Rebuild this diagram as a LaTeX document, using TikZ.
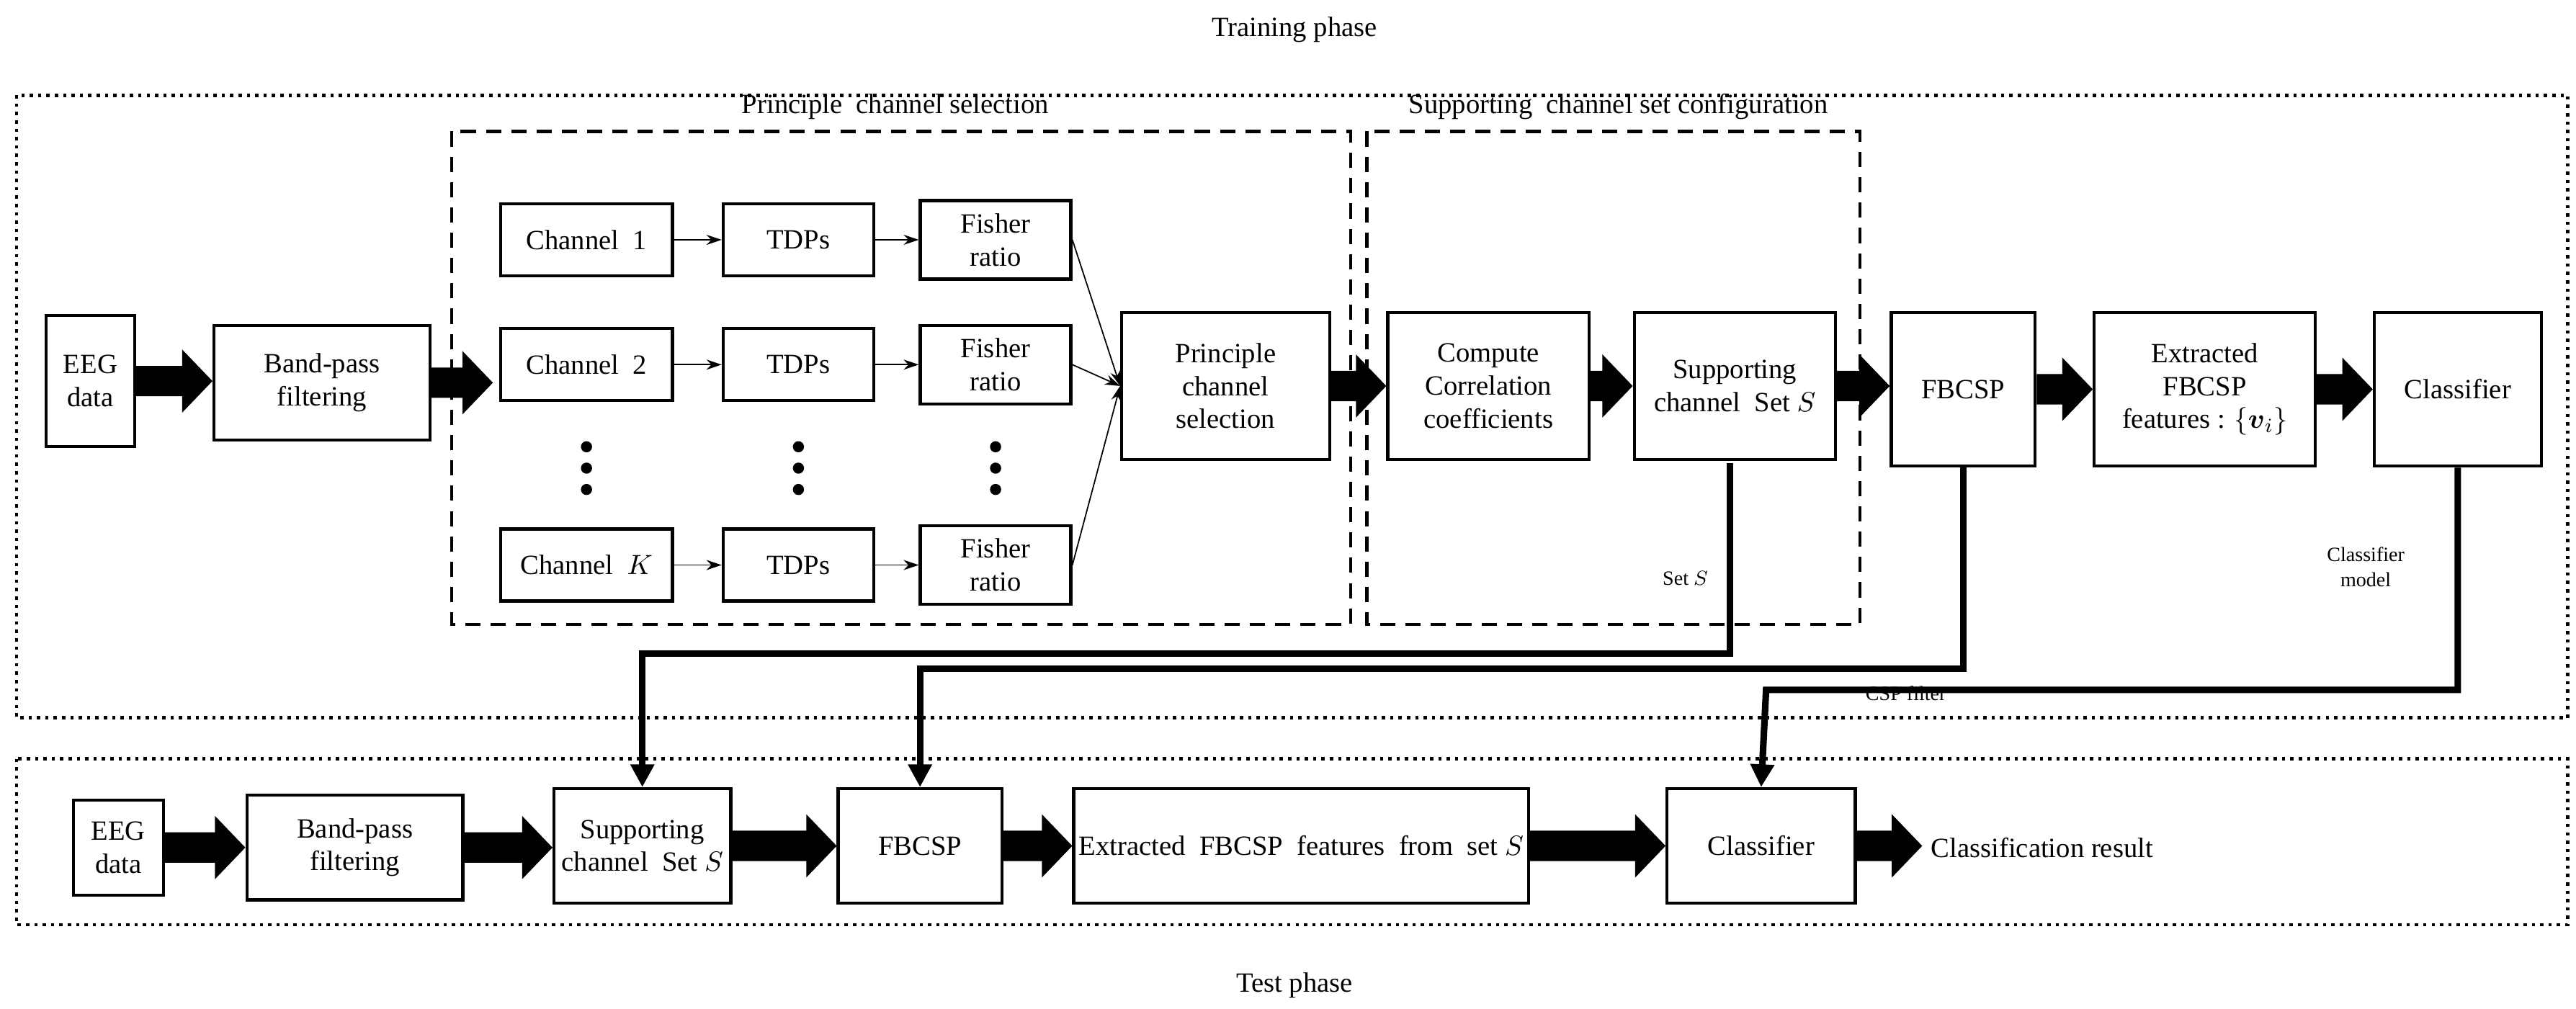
\documentclass[tikz,border=0pt]{standalone}
\usepackage{amsmath}
\usepackage{fontspec}
\setmainfont{Liberation Serif}
\usetikzlibrary{calc,arrows.meta}
\newcommand\barrow[2]{\fill let \p1=(#1), \p2=(#2) in (\x1,\y1+6pt) -- (\x2-12pt,\y1+6pt) -- (\x2-12pt,\y1+12.5pt) -- (\x2,\y1) -- (\x2-12pt,\y1-12.5pt) -- (\x2-12pt,\y1-6pt) -- (\x1,\y1-6pt) -- cycle;}
\newcommand\vdotsat[1]{\foreach \d in {-13,0,13}{\fill ($(#1)+(0,\d)$) circle (2.2pt);}}
\begin{document}
\begin{tikzpicture}[x=0.022806cm,y=-0.022806cm,
  every node/.style={font=\fontsize{11}{13}\selectfont},
  box/.style={draw,line width=1.2pt,align=center,inner sep=2pt},
  sz/.style 2 args={minimum width=#1*0.6466pt,minimum height=#2*0.6466pt},
  small/.style={font=\fontsize{8}{10}\selectfont,align=center},
  thin/.style={-{Stealth[length=6pt,width=4pt]},line width=0.5pt},
  feed/.style={line width=2.6pt,-{Triangle[length=9pt,width=9pt]}}]
\useasboundingbox (0,0) rectangle (1568,614);
% frames
\draw[line width=1.3pt,dotted] (10,58) rectangle (1563,437);
\node at (788,18) {Training phase};
\draw[line width=1.3pt,dotted] (10,462) rectangle (1563,563);
\node at (788,600) {Test phase};
\draw[line width=1.2pt,dash pattern=on 6pt off 4pt] (275,80) rectangle (822,380);
\node at (545,65) {Principle\ \ channel selection};
\draw[line width=1.2pt,dash pattern=on 6pt off 4pt] (832,80) rectangle (1132,380);
\node at (985,65) {Supporting\ \ channel set configuration};
% training row
\node[box,sz={54}{80}] (eeg) at (55,232) {EEG\\data};
\node[box,sz={132}{70}] (bp) at (196,233) {Band-pass\\filtering};
\foreach \r/\y/\lab in {1/146/1, 2/222/2, 3/344/{$K$}}{
  \node[box,sz={105}{44}] (ch\r) at (357,\y) {Channel\ \ \lab};
  \node[box,sz={92}{44}] (td\r) at (486,\y) {TDPs};
  \node[box,sz={92}{48}] (fr\r) at (606,\y) {Fisher\\ratio};
  \draw[thin] (ch\r) -- (td\r);
  \draw[thin] (td\r) -- (fr\r);
}
\coordinate (d1) at (357,285); \coordinate (d2) at (486,285); \coordinate (d3) at (606,285);
\vdotsat{d1}\vdotsat{d2}\vdotsat{d3}
\node[box,sz={127}{90}] (pcs) at (746,235) {Principle\\channel\\selection};
\foreach \r in {1,2,3}{\draw[thin] (fr\r.east) -- (pcs.west);}
\node[box,sz={123}{90}] (cc) at (906,235) {Compute\\Correlation\\coefficients};
\node[box,sz={123}{90}] (ss) at (1056,235) {Supporting\\channel\ \ Set $S$};
\node[box,sz={88}{94}] (fb) at (1195,237) {FBCSP};
\node[box,sz={135}{94}] (ex) at (1342,237) {Extracted\\FBCSP\\features : $\{\boldsymbol{v}_i\}$};
\node[box,sz={102}{94}] (cl) at (1496,237) {Classifier};
\coordinate (bpend) at (300,233);
\barrow{eeg.east}{bp.west}
\barrow{bp.east}{bpend}
\barrow{pcs.east}{cc.west}
\barrow{cc.east}{ss.west}
\barrow{ss.east}{fb.west}
\barrow{fb.east}{ex.west}
\barrow{ex.east}{cl.west}
% test row
\node[box,sz={55}{58}] (teeg) at (72,516) {EEG\\data};
\node[box,sz={132}{64}] (tbp) at (216,516) {Band-pass\\filtering};
\node[box,sz={108}{70}] (tss) at (391,515) {Supporting\\channel\ \ Set $S$};
\node[box,sz={100}{70}] (tfb) at (560,515) {FBCSP};
\node[box,sz={265}{70}] (tex) at (792,515) {Extracted\ \ FBCSP\ \ features\ \ from\ \ set $S$};
\node[box,sz={115}{70}] (tcl) at (1072,515) {Classifier};
\node (res) at (1243,516) {Classification result};
\barrow{teeg.east}{tbp.west}
\barrow{tbp.east}{tss.west}
\barrow{tss.east}{tfb.west}
\barrow{tfb.east}{tex.west}
\barrow{tex.east}{tcl.west}
\barrow{tcl.east}{res.west}
% feedback
\coordinate (s1) at (1053,282);
\draw[feed] (s1) -- (1053,398) -- (391,398) -- (tss.north);
\draw[feed] (fb.south) -- (fb.south |- 0,407) -- (560,407) -- (tfb.north);
\draw[feed] (cl.south) -- (cl.south |- 0,420) -- (1075,420) -- (tcl.north);
\node[small,anchor=east] at (1045,352) {Set $S$};
\node[small,anchor=east] at (1190,422) {CSP filter};
\node[small] at (1440,345) {Classifier\\model};
\end{tikzpicture}
\end{document}
